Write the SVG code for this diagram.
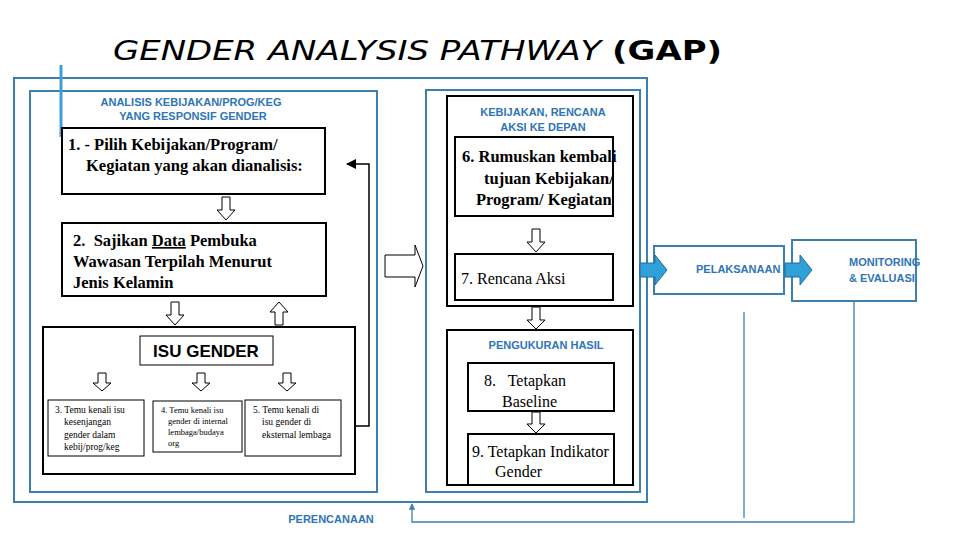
<svg xmlns="http://www.w3.org/2000/svg" width="960" height="540" viewBox="0 0 960 540">
<defs>
<style>
.blue{fill:none;stroke:#3d7fae;stroke-width:2}
.thin{fill:none;stroke:#3d7fae;stroke-width:1.3}
.bx{fill:#fff;stroke:#000;stroke-width:2}
.ha{fill:#fff;stroke:#000;stroke-width:1}
.lb{font-family:"Liberation Sans",Arial,sans-serif;font-weight:bold;fill:#2e75b6;font-size:11px}
.sr{font-family:"Liberation Serif","Times New Roman",serif;fill:#000}
.bs{font-weight:bold;font-size:16.5px}
.ba{fill:#2fa0d8;stroke:#1f6f9a;stroke-width:1}
</style>
<marker id="ah" viewBox="0 0 10 10" refX="9" refY="5" markerWidth="7" markerHeight="7" orient="auto-start-reverse"><path d="M0,0 L10,5 L0,10 z" fill="#000"/></marker>
<marker id="bh" viewBox="0 0 10 10" refX="9" refY="5" markerWidth="5" markerHeight="5" orient="auto"><path d="M0,0 L10,5 L0,10 z" fill="#3d7fae"/></marker>
</defs>
<rect width="960" height="540" fill="#fff"/>
<text x="113" y="60" font-family="DejaVu Sans,Verdana,sans-serif" font-size="27" fill="#000" textLength="609" lengthAdjust="spacingAndGlyphs"><tspan font-style="italic">GENDER ANALYSIS PATHWAY</tspan> <tspan font-weight="bold">(GAP)</tspan></text>
<g id="frames">
<rect class="blue" x="14" y="78" width="633" height="424"/>
<rect class="blue" x="30" y="91" width="347" height="401"/>
<line x1="61" y1="65" x2="61" y2="137" stroke="#3d9fd6" stroke-width="3"/>
<rect class="blue" x="426" y="90" width="214" height="402"/>
<text class="lb" x="191" y="106" text-anchor="middle">ANALISIS KEBIJAKAN/PROG/KEG</text>
<text class="lb" x="193" y="120" text-anchor="middle">YANG RESPONSIF GENDER</text>
<text class="lb" x="331" y="523" text-anchor="middle">PERENCANAAN</text>
</g>
<g id="n1"><rect class="bx" x="62" y="128" width="263" height="66"/>
<text class="sr bs" x="68" y="150">1. - Pilih Kebijakan/Program/</text>
<text class="sr bs" x="86" y="171">Kegiatan yang akan dianalisis:</text></g>
<g id="n2"><rect class="bx" x="62" y="223" width="264" height="73"/>
<text class="sr bs" x="73" y="246" xml:space="preserve">2.  Sajikan <tspan text-decoration="underline">Data</tspan> Pembuka</text>
<text class="sr bs" x="73" y="267">Wawasan  Terpilah Menurut</text>
<text class="sr bs" x="73" y="288">Jenis Kelamin</text></g>
<g id="isu"><rect class="bx" x="43" y="327" width="312" height="147"/>
<rect fill="#fff" stroke="#000" stroke-width="1" x="140" y="336" width="133" height="29"/>
<text x="206" y="357" text-anchor="middle" font-family="Liberation Sans,Arial,sans-serif" font-weight="bold" font-size="17">ISU GENDER</text></g>
<g id="n3"><rect fill="#fff" stroke="#000" x="48" y="400" width="96" height="56"/>
<text class="sr" font-size="9.5"><tspan x="55" y="413">3. Temu kenali isu</tspan><tspan x="64" y="425">kesenjangan</tspan><tspan x="64" y="438">gender dalam</tspan><tspan x="64" y="450">kebij/prog/keg</tspan></text></g>
<g id="n4"><rect fill="#fff" stroke="#000" x="153" y="401" width="89" height="51"/>
<text class="sr" font-size="8.5"><tspan x="161" y="413">4. Temu kenali isu</tspan><tspan x="168" y="424">gender di internal</tspan><tspan x="168" y="435">lembaga/budaya</tspan><tspan x="168" y="446">org</tspan></text></g>
<g id="n5"><rect fill="#fff" stroke="#000" x="245" y="400" width="96" height="56"/>
<text class="sr" font-size="9.5"><tspan x="253" y="413">5. Temu kenali di</tspan><tspan x="262" y="425">isu gender di</tspan><tspan x="262" y="438">eksternal lembaga</tspan></text></g>
<g id="kb"><rect class="bx" x="447" y="96" width="186" height="210"/>
<text class="lb" x="543" y="116" text-anchor="middle">KEBIJAKAN, RENCANA</text>
<text class="lb" x="543" y="131" text-anchor="middle">AKSI KE DEPAN</text></g>
<g id="n6"><rect class="bx" x="455" y="137" width="158" height="79"/>
<text class="sr bs" x="462" y="162" font-size="17">6.  Rumuskan kembali</text>
<text class="sr bs" x="484" y="184" font-size="17">tujuan Kebijakan/</text>
<text class="sr bs" x="476" y="205" font-size="17">Program/ Kegiatan</text></g>
<g id="n7"><rect class="bx" x="455" y="254" width="158" height="46"/>
<text class="sr" font-size="16" x="461" y="284">7. Rencana Aksi</text></g>
<g id="ph"><rect class="bx" x="447" y="330" width="186" height="155"/>
<text class="lb" x="546" y="349" text-anchor="middle">PENGUKURAN HASIL</text></g>
<g id="n8"><rect class="bx" x="468" y="363" width="146" height="48"/>
<text class="sr" font-size="16" x="484" y="386" xml:space="preserve">8.   Tetapkan</text>
<text class="sr" font-size="16" x="502" y="407">Baseline</text></g>
<g id="n9"><rect class="bx" x="468" y="434" width="146" height="51"/>
<text class="sr" font-size="16" x="472" y="457">9.  Tetapkan Indikator</text>
<text class="sr" font-size="16" x="495" y="477">Gender</text></g>
<g id="pel"><rect class="blue" x="654" y="246" width="130" height="48"/>
<text class="lb" x="696" y="273">PELAKSANAAN</text></g>
<g id="mon"><rect class="blue" x="792" y="240" width="124" height="61"/>
<text class="lb" x="849" y="266">MONITORING</text><text class="lb" x="849" y="282">&amp; EVALUASI</text></g>
<g id="connectors">
<path class="ha" d="M222,197 h8 v13 h5 l-9,10 l-9,-10 h5 z"/>
<path class="ha" d="M171,302 h8 v13 h5 l-9,10 l-9,-10 h5 z"/>
<path class="ha" d="M275,325 h8 v-13 h5 l-9,-10 l-9,10 h5 z"/>
<path class="ha" d="M98,373 h8 v10 h5 l-9,8 l-9,-8 h5 z"/>
<path class="ha" d="M197,373 h8 v10 h5 l-9,8 l-9,-8 h5 z"/>
<path class="ha" d="M283,373 h8 v10 h5 l-9,8 l-9,-8 h5 z"/>
<path class="ha" d="M532,229 h8 v13 h5 l-9,10 l-9,-10 h5 z"/>
<path class="ha" d="M532,307 h8 v13 h5 l-9,9 l-9,-9 h5 z"/>
<path class="ha" d="M532,412 h8 v12 h5 l-9,9 l-9,-9 h5 z"/>
<path class="ha" d="M385,255 h30 v-10 l8,21 l-8,21 v-10 h-30 z"/>
<polyline points="356,426 369,426 369,164 347,164" fill="none" stroke="#000" stroke-width="1.5" marker-end="url(#ah)"/>
<path class="ba" d="M640,263 h15 v-8 l12,15 l-12,15 v-8 h-15 z"/>
<path class="ba" d="M785,263 h15 v-8 l12,15 l-12,15 v-8 h-15 z"/>
<line class="thin" x1="744" y1="312" x2="744" y2="518"/>
<polyline class="thin" points="854,301 854,522 412,522 412,504" marker-end="url(#bh)"/>
</g>
</svg>
